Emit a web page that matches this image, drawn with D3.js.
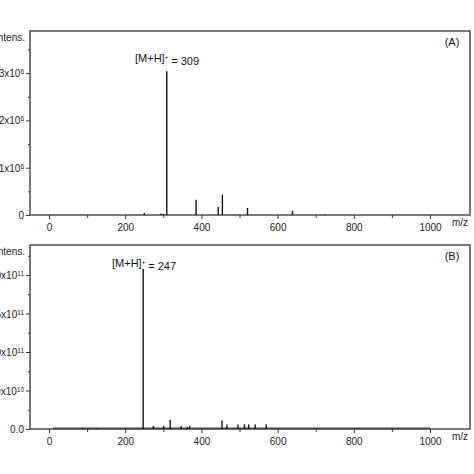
<!DOCTYPE html>
<html>
<head>
<meta charset="utf-8">
<script src="https://cdn.jsdelivr.net/npm/d3@7"></script>
<style>
  body { margin: 0; background: #fff; }
  svg { display: block; font-family: "Liberation Sans", Arial, sans-serif; }
  .axis text { font-size: 10px; fill: #222; }
  .axis path, .axis line { stroke: #333; }
</style>
</head>
<body>
<svg id="chart" width="474" height="474"></svg>
<script>
// spectrum A (m/z, intensity)
const peaksA_mz = [250, 294, 300, 309, 386, 444, 455, 521, 639, 725]
const peaksA_int = [0.04e6, 0.03e6, 0.02e6, 3.04e6, 0.32e6, 0.17e6, 0.43e6, 0.15e6, 0.09e6, 0.01e6]
const ticksA = [0, 1e6, 2e6, 3e6]
const tickLabelsA = [['0', ''], ['1x10', '6'], ['2x10', '6'], ['3x10', '6']]

// spectrum B
const peaksB_mz = [88, 126, 247, 274, 301, 318, 347, 363, 369, 454, 467, 496, 513, 524, 541, 570]
const peaksB_int = [0.01e11, 0.01e11, 2.08e11, 0.04e11, 0.04e11, 0.12e11, 0.04e11, 0.03e11, 0.04e11, 0.11e11, 0.06e11, 0.06e11, 0.06e11, 0.06e11, 0.06e11, 0.06e11]
const noiseB_mz = [10, 1000]
const noiseB_int = [0.008e11, 0.008e11]
const ticksB = [0, 0.5e11, 1e11, 1.5e11, 2e11]
const tickLabelsB = [['0.0', ''], ['5.0x10', '10'], ['1.0x10', '11'], ['1.5x10', '11'], ['2.0x10', '11']]

const xTicks = [0, 200, 400, 600, 800, 1000]
const xMinor = [100, 300, 500, 700, 900]

const svg = d3.select('#chart')

function drawPanel(opt) {
  const g = svg.append('g')
  const x = d3.scaleLinear().domain([-50, 1105]).range([30, 470])
  const y = d3.scaleLinear().domain([0, opt.yMax]).range([opt.bottom, opt.top])

  // minor ticks
  g.append('g').attr('class', 'axis')
    .attr('transform', 'translate(0,' + opt.bottom + ')')
    .call(d3.axisBottom(x).tickValues(xMinor).tickSize(3).tickFormat(''))
    .call(s => s.select('.domain').remove())
  g.append('g').attr('class', 'axis')
    .attr('transform', 'translate(30,0)')
    .call(d3.axisLeft(y).tickValues(opt.minor).tickSize(2).tickFormat(''))
    .call(s => s.select('.domain').remove())

  const xa = g.append('g').attr('class', 'axis')
    .attr('transform', 'translate(0,' + opt.bottom + ')')
    .call(d3.axisBottom(x).tickValues(xTicks).tickSize(4).tickPadding(5).tickFormat(d3.format('d')))
  xa.select('.domain').remove()

  const ya = g.append('g').attr('class', 'axis')
    .attr('transform', 'translate(30,0)')
    .call(d3.axisLeft(y).tickValues(opt.ticks).tickSize(4).tickPadding(3).tickFormat(''))
  ya.select('.domain').remove()
  ya.selectAll('.tick').each(function (d, i) {
    const lab = opt.labels[i]
    const t = d3.select(this).append('text')
      .attr('x', -6).attr('dy', '0.35em')
      .attr('text-anchor', 'end')
      .style('font-size', '10px').attr('fill', '#222')
    t.append('tspan').text(lab[0])
    if (lab[1]) {
      t.append('tspan').attr('dy', '-0.45em').style('font-size', '6.5px').text(lab[1])
    }
  })

  // frame
  g.append('rect')
    .attr('x', 30).attr('y', opt.top)
    .attr('width', 440).attr('height', opt.bottom - opt.top)
    .attr('fill', 'none').attr('stroke', '#333').attr('stroke-width', 1.3)

  // baseline noise
  if (opt.noiseMz) {
    const line = d3.line().x((d, i) => x(d)).y((d, i) => y(opt.noiseInt[i]))
    g.append('path').datum(opt.noiseMz)
      .attr('d', line).attr('stroke', '#444').attr('stroke-width', 1.6).attr('fill', 'none')
  }

  // peaks
  g.selectAll('line.peak').data(opt.mz).enter().append('line')
    .attr('class', 'peak')
    .attr('x1', d => x(d)).attr('x2', d => x(d))
    .attr('y1', y(0)).attr('y2', (d, i) => y(opt.int[i]))
    .attr('stroke', '#111').attr('stroke-width', 1.4)

  // labels
  g.append('text').attr('x', 25).attr('y', opt.top + 10)
    .attr('text-anchor', 'end').style('font-size', '10px').attr('fill', '#222')
    .text('Intens.')
  g.append('text').attr('x', 460).attr('y', opt.bottom + 11)
    .attr('text-anchor', 'middle').style('font-size', '10px').attr('fill', '#222')
    .text('m/z')
  g.append('text').attr('x', 452).attr('y', opt.top + 15)
    .attr('text-anchor', 'middle').style('font-size', '11px').attr('fill', '#111')
    .text(opt.tag)

  const ann = g.append('text').attr('x', opt.annX).attr('y', opt.annY)
    .style('font-size', '11px').attr('fill', '#111')
  ann.append('tspan').text('[M+H]')
  ann.append('tspan').attr('dy', '-0.5em').style('font-size', '6px').text('+')
  ann.append('tspan').attr('dy', '0.5em').text(' = ' + opt.annVal)
}

drawPanel({
  top: 31, bottom: 215, yMax: 3.89e6,
  ticks: ticksA, labels: tickLabelsA,
  minor: [0.5e6, 1.5e6, 2.5e6, 3.5e6],
  mz: peaksA_mz, int: peaksA_int,
  tag: '(A)', annX: 135, annY: 62, annVal: 309
})

drawPanel({
  top: 245, bottom: 429, yMax: 2.39e11,
  ticks: ticksB, labels: tickLabelsB,
  minor: [0.25e11, 0.75e11, 1.25e11, 1.75e11, 2.25e11],
  mz: peaksB_mz, int: peaksB_int,
  noiseMz: noiseB_mz, noiseInt: noiseB_int,
  tag: '(B)', annX: 112, annY: 267, annVal: 247
})
</script>
</body>
</html>
